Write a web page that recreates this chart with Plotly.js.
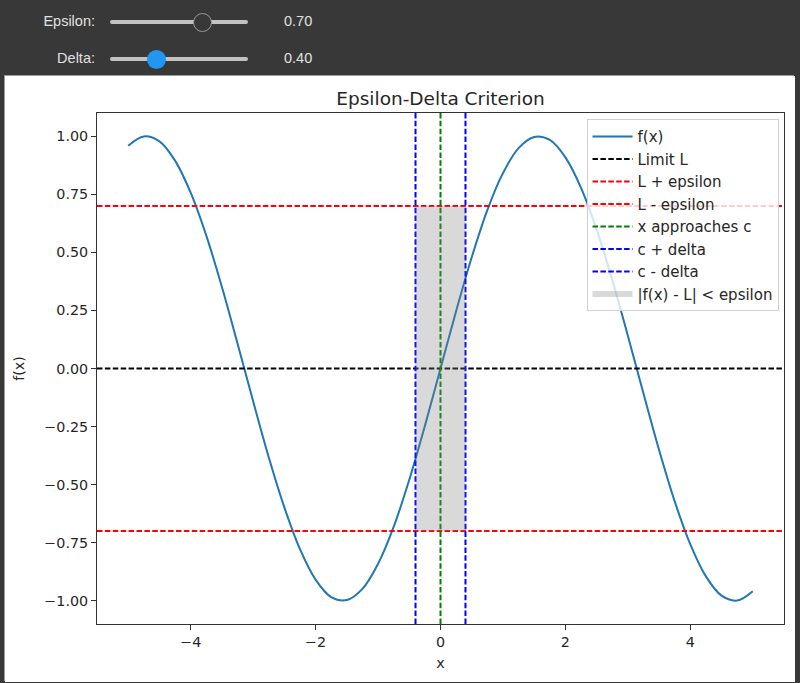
<!DOCTYPE html>
<html>
<head>
<meta charset="utf-8">
<script src="https://cdn.plot.ly/plotly-3.0.1.min.js"></script>
<style>
  html, body { margin:0; padding:0; width:800px; height:683px; background:#383838; overflow:hidden; }
  .row { position:absolute; left:0; height:20px; width:400px; font-family:"Liberation Sans", Arial, sans-serif; font-size:14.5px; color:#e0e0e0; }
  .lbl { position:absolute; right:305px; top:2px; text-align:right; }
  .track { position:absolute; left:110px; width:138px; top:9px; height:4px; background:#c2c2c2; border-radius:2px; }
  .knob { position:absolute; top:1.5px; width:19px; height:19px; border-radius:50%; box-sizing:border-box; }
  .val { position:absolute; left:284px; top:2px; }
  #card { position:absolute; left:4px; top:75px; width:790px; height:606px; background:#fff; border:1px solid #9a9a9a; box-sizing:border-box; }
  #plot { position:absolute; left:0; top:0; width:790px; height:606px; }
</style>
</head>
<body>
<div class="row" style="top:11px;">
  <div class="lbl">Epsilon:</div>
  <div class="track"></div>
  <div class="knob" id="k1" style="background:#383838;border:1px solid #9a9a9a;"></div>
  <div class="val" id="v1"></div>
</div>
<div class="row" style="top:48px;">
  <div class="lbl">Delta:</div>
  <div class="track"></div>
  <div class="knob" id="k2" style="background:#2196f3;"></div>
  <div class="val" id="v2"></div>
</div>
<div id="card"><div id="plot"></div></div>
<script>
// Values
const epsilon = 0.70;
const delta = 0.40;
const sliderMin = 0.1, sliderMax = 1.0;
const limitL = 0.0;
const c = 0.0;
const xs = [-5,-4.75,-4.5,-4.25,-4,-3.75,-3.5,-3.25,-3,-2.75,-2.5,-2.25,-2,-1.75,-1.5,-1.25,-1,-0.75,-0.5,-0.25,0,
            0.25,0.5,0.75,1,1.25,1.5,1.75,2,2.25,2.5,2.75,3,3.25,3.5,3.75,4,4.25,4.5,4.75,5];
const ys = [0.959,0.999,0.978,0.895,0.757,0.572,0.351,0.108,-0.141,-0.382,-0.598,-0.778,-0.909,-0.984,-0.997,-0.949,-0.841,-0.682,-0.479,-0.247,0,
            0.247,0.479,0.682,0.841,0.949,0.997,0.984,0.909,0.778,0.598,0.382,0.141,-0.108,-0.351,-0.572,-0.757,-0.895,-0.978,-0.999,-0.959];
const xRange = [-5.5, 5.5];
const yRange = [-1.1, 1.1];
const xTicks = [-4, -2, 0, 2, 4];
const yTicks = [-1.0, -0.75, -0.5, -0.25, 0, 0.25, 0.5, 0.75, 1.0];

// sliders
function place(k, v, val) {
  const f = (val - sliderMin) / (sliderMax - sliderMin);
  document.getElementById(k).style.left = (110 + f * 138 - 9.5) + 'px';
  document.getElementById(v).textContent = val.toFixed(2);
}
place('k1', 'v1', epsilon);
place('k2', 'v2', delta);

const dash = '5.5px,2.4px';
const lw = 2;
const hline = (y, name, color) => ({x: xRange, y: [y, y], mode: 'lines', name, line: {color, width: lw, dash}});
const vline = (x, name, color) => ({x: [x, x], y: yRange, mode: 'lines', name, line: {color, width: lw, dash}});

const traces = [
  {x: xs, y: ys, mode: 'lines', name: 'f(x)', line: {color: '#1f77b4', width: lw, shape: 'spline'}},
  hline(limitL, 'Limit L', 'black'),
  hline(limitL + epsilon, 'L + epsilon', 'red'),
  hline(limitL - epsilon, 'L - epsilon', 'red'),
  vline(c, 'x approaches c', 'green'),
  vline(c + delta, 'c + delta', 'blue'),
  vline(c - delta, 'c - delta', 'blue'),
  {x: [c - delta, c + delta, c + delta, c - delta, c - delta],
   y: [limitL - epsilon, limitL - epsilon, limitL + epsilon, limitL + epsilon, limitL - epsilon],
   mode: 'none', fill: 'toself', fillcolor: 'rgba(128,128,128,0.3)',
   name: '|f(x) - L| < epsilon'}
];

const font = {family: 'DejaVu Sans, sans-serif', size: 14.3, color: '#262626'};
const layout = {
  width: 790, height: 606,
  margin: {l: 92, r: 11, t: 37, b: 58},
  paper_bgcolor: 'white', plot_bgcolor: 'white',
  font,
  showlegend: true,
  title: {text: 'Epsilon-Delta Criterion', font: {family: 'DejaVu Sans, sans-serif', size: 18.5, color: '#262626'}, x: 0.5, xref: 'paper', xanchor: 'center', y: 1, yref: 'paper', yanchor: 'bottom', pad: {b: 8}},
  xaxis: {range: xRange, tickvals: xTicks, ticktext: xTicks.map(v => v < 0 ? '\u2212' + Math.abs(v) : String(v)),
          ticks: 'outside', ticklen: 5, tickcolor: '#333', showgrid: false, zeroline: false,
          showline: true, linecolor: '#333', linewidth: 1, mirror: true,
          title: {text: 'x', font: {size: 14.3}, standoff: 8}},
  yaxis: {range: yRange, tickvals: yTicks, ticktext: yTicks.map(v => (v < 0 ? '\u2212' : '') + Math.abs(v).toFixed(2)),
          ticks: 'outside', ticklen: 5, tickcolor: '#333', showgrid: false, zeroline: false,
          showline: true, linecolor: '#333', linewidth: 1, mirror: true,
          title: {text: 'f(x)', font: {size: 14.3}, standoff: 16}},
  legend: {x: 0.992, y: 0.988, xanchor: 'right', yanchor: 'top', bgcolor: 'rgba(255,255,255,0.8)',
           bordercolor: '#d0d0d0', borderwidth: 1, font: {size: 15, color: '#262626'}, tracegroupgap: 0, itemwidth: 40}
};
Plotly.newPlot('plot', traces, layout, {displayModeBar: false, staticPlot: true});
</script>
</body>
</html>
